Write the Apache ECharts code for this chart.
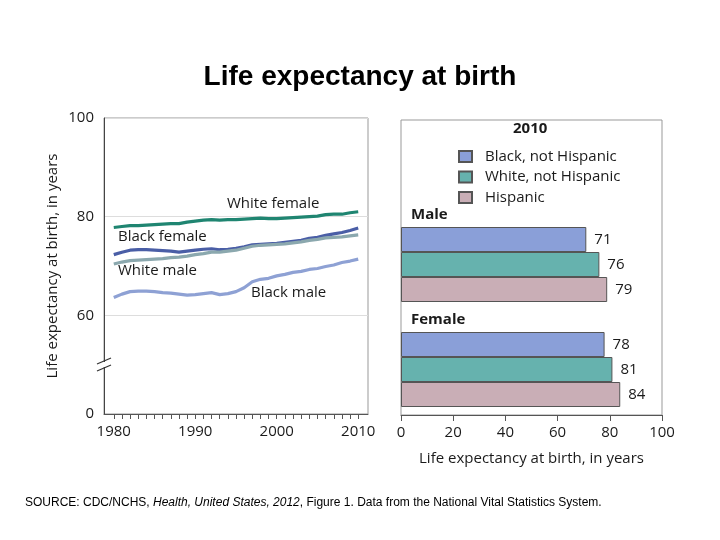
<!DOCTYPE html>
<html>
<head>
<meta charset="utf-8">
<script src="https://cdn.jsdelivr.net/npm/echarts@6/dist/echarts.min.js"></script>
<style>
  html, body { margin: 0; padding: 0; background: #fff; }
  #main { width: 720px; height: 540px; }
</style>
</head>
<body>
<div id="main"></div>
<script>
var chartDom = document.getElementById('main');
var myChart = echarts.init(chartDom);

// trend data, 1980-2010
var years = [];
for (var y = 1980; y <= 2010; y++) years.push(y);

var whiteFemale = [77.8, 78.0, 78.2, 78.2, 78.3, 78.4, 78.5, 78.6, 78.6, 78.9, 79.1, 79.3, 79.4, 79.3, 79.4, 79.4,
  79.5, 79.6, 79.7, 79.6, 79.6, 79.7, 79.8, 79.9, 80.0, 80.1, 80.4, 80.5, 80.5, 80.8, 81.0];
var blackFemale = [72.3, 72.8, 73.2, 73.3, 73.3, 73.2, 73.1, 73.0, 72.8, 73.0, 73.2, 73.4, 73.5, 73.3, 73.4, 73.6,
  73.9, 74.3, 74.4, 74.5, 74.6, 74.8, 75.0, 75.2, 75.6, 75.8, 76.2, 76.5, 76.8, 77.2, 77.7];
var whiteMale = [70.4, 70.8, 71.1, 71.2, 71.3, 71.4, 71.5, 71.7, 71.8, 72.0, 72.3, 72.5, 72.8, 72.8, 73.0, 73.2,
  73.6, 74.0, 74.2, 74.3, 74.4, 74.5, 74.7, 74.9, 75.2, 75.4, 75.7, 75.8, 75.9, 76.1, 76.3];
var blackMale = [63.6, 64.3, 64.8, 64.9, 64.9, 64.8, 64.6, 64.5, 64.3, 64.1, 64.2, 64.4, 64.6, 64.2, 64.4, 64.8,
  65.6, 66.8, 67.3, 67.5, 68.0, 68.3, 68.7, 68.9, 69.3, 69.5, 69.9, 70.2, 70.7, 71.0, 71.4];

// 2010 bars
var sexes = ['Male', 'Female'];
var blackNH = [71, 78];
var whiteNH = [76, 81];
var hispanic = [79, 84];

var xLabels = [1980, 1990, 2000, 2010];

function pairs(vals) {
  return years.map(function (yr, i) { return [yr, vals[i]]; });
}

var font = '"Open Sans", sans-serif';
var txt = '#1a1a1a';

function lineSeries(name, vals, color) {
  return {
    name: name, type: 'line', xAxisIndex: 0, yAxisIndex: 0,
    data: pairs(vals), showSymbol: false, silent: true,
    lineStyle: { color: color, width: 3.2 }
  };
}

function barSeries(name, vals, color) {
  return {
    name: name, type: 'bar', xAxisIndex: 2, yAxisIndex: 2,
    data: vals, barWidth: 25, barGap: '0%',
    itemStyle: { color: color, borderColor: '#555', borderWidth: 1 },
    label: { show: true, position: 'right', distance: 8, fontSize: 15, fontFamily: font, color: txt }
  };
}

function label(x, y, text, bold) {
  return {
    type: 'text', left: x, top: y,
    style: { text: text, fontSize: 15, fontFamily: font, fill: txt, fontWeight: bold ? 'bold' : 'normal' }
  };
}

var option = {
  animation: false,
  title: {
    text: 'Life expectancy at birth', left: 'center', top: 58,
    textStyle: { fontSize: 28, fontWeight: 'bold', fontFamily: '"Liberation Sans", Arial, sans-serif', color: '#000' }
  },
  legend: {
    data: ['Black, not Hispanic', 'White, not Hispanic', 'Hispanic'],
    orient: 'vertical', left: 453, top: 144,
    itemWidth: 13, itemHeight: 11, itemGap: 5.5, icon: 'rect',
    selectedMode: false,
    textStyle: { fontSize: 15, fontFamily: font, color: txt, lineHeight: 15, padding: [0, 0, 0, 8] }
  },
  grid: [
    { left: 104, top: 118, width: 264, height: 296, show: true, borderColor: '#999', borderWidth: 1 },
    { left: 401, top: 120, width: 261, height: 295, show: true, borderColor: '#999', borderWidth: 1 },
    { left: 401, top: 212, width: 261, height: 210 }
  ],
  xAxis: [
    {
      gridIndex: 0, type: 'value', min: 1978.8, max: 2011.2,
      axisLine: { lineStyle: { color: '#555' } },
      axisTick: { customValues: years, length: 5, lineStyle: { color: '#555' } },
      axisLabel: {
        customValues: xLabels, fontSize: 15, fontFamily: font, color: txt, margin: 10,
        formatter: function (v) { return String(v); }
      },
      splitLine: { show: false }
    },
    {
      gridIndex: 1, type: 'value', min: 0, max: 100, interval: 20,
      axisLine: { lineStyle: { color: '#555' } },
      axisTick: { length: 6, lineStyle: { color: '#555' } },
      axisLabel: { fontSize: 15, fontFamily: font, color: txt, margin: 10 },
      splitLine: { show: false },
      name: 'Life expectancy at birth, in years', nameLocation: 'middle', nameGap: 36,
      nameTextStyle: { fontSize: 15, fontFamily: font, color: txt }
    },
    { gridIndex: 2, type: 'value', min: 0, max: 100, show: false }
  ],
  yAxis: [
    {
      gridIndex: 0, type: 'value', min: 40, max: 100, interval: 20,
      axisLine: { show: true, lineStyle: { color: '#444' } },
      axisTick: { show: false },
      axisLabel: {
        fontSize: 15, fontFamily: font, color: txt, margin: 10,
        formatter: function (v) { return v === 40 ? '0' : String(v); }
      },
      splitLine: { lineStyle: { color: '#ddd' } },
      name: 'Life expectancy at birth, in years', nameLocation: 'middle', nameGap: 44, nameRotate: 90,
      nameTextStyle: { fontSize: 15, fontFamily: font, color: txt }
    },
    { gridIndex: 1, type: 'value', min: 0, max: 1, show: false },
    { gridIndex: 2, type: 'category', data: sexes, inverse: true, show: false }
  ],
  graphic: [
    label(227, 196, 'White female'),
    label(118, 229, 'Black female'),
    label(118, 263, 'White male'),
    label(251, 285, 'Black male'),
    label(513, 121, '2010', true),
    label(411, 207, 'Male', true),
    label(411, 312, 'Female', true),
    // axis break mark
    { type: 'rect', shape: { x: 99, y: 362, width: 10, height: 5 }, style: { fill: '#fff' }, z: 100 },
    { type: 'line', shape: { x1: 97, y1: 364, x2: 111, y2: 358 }, style: { stroke: '#333', lineWidth: 1.2 }, z: 101 },
    { type: 'line', shape: { x1: 97, y1: 371, x2: 111, y2: 365 }, style: { stroke: '#333', lineWidth: 1.2 }, z: 101 },
    {
      type: 'text', left: 25, top: 497,
      style: {
        text: '{n|SOURCE: CDC/NCHS, }{i|Health, United States, 2012}{n|, Figure 1. Data from the National Vital Statistics System.}',
        rich: {
          n: { fontSize: 12, fontFamily: '"Liberation Sans", Arial, sans-serif', fill: '#000' },
          i: { fontSize: 12, fontStyle: 'italic', fontFamily: '"Liberation Sans", Arial, sans-serif', fill: '#000' }
        }
      }
    }
  ],
  series: [
    lineSeries('White female', whiteFemale, '#1f8571'),
    lineSeries('Black female', blackFemale, '#4a5ea6'),
    lineSeries('White male', whiteMale, '#8ba8ae'),
    lineSeries('Black male', blackMale, '#8ea1d4'),
    barSeries('Black, not Hispanic', blackNH, '#8a9fd8'),
    barSeries('White, not Hispanic', whiteNH, '#66b2ae'),
    barSeries('Hispanic', hispanic, '#c9aeb6')
  ]
};

myChart.setOption(option);
</script>
</body>
</html>
